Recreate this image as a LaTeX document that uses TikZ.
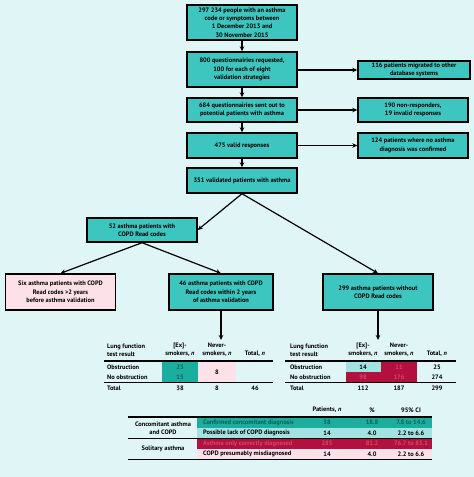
\documentclass[tikz,border=0pt]{standalone}
\usepackage{fontspec}
\setmainfont{PT Sans}
\usetikzlibrary{arrows.meta}
\definecolor{bgc}{HTML}{E0F5F6}
\definecolor{boxteal}{HTML}{3CC6BF}
\definecolor{tealdk}{HTML}{1BAE9F}
\definecolor{teallt}{HTML}{A2E2E0}
\definecolor{crim}{HTML}{B3103F}
\definecolor{pinkc}{HTML}{FCE1E8}
\definecolor{crimtxt}{HTML}{D24868}
\definecolor{tealtxt}{HTML}{075E57}
\newcommand\myfs{\bfseries\fontsize{6.4}{8.3}\selectfont}
\begin{document}
\begin{tikzpicture}[x=1pt,y=-1pt,
  box/.style={draw=black,line width=1.4pt,fill=boxteal,align=center,inner sep=0pt,font=\myfs,minimum width=110pt},
  pbox/.style={box,fill=pinkc},
  arr/.style={-{Stealth[length=5pt,width=4.5pt]},line width=1.2pt},
  txt/.style={font=\myfs,inner sep=0pt,align=center},
  ltxt/.style={font=\myfs,inner sep=0pt,anchor=west,align=left},
  cell/.style={font=\myfs,inner sep=0pt,draw=none},
  rulethick/.style={line width=1.4pt},
  rulethin/.style={line width=1pt}]
\useasboundingbox (0,0) rectangle (474,477);
\fill[bgc] (0,0) rectangle (474,477);

% main chain
\node[box,minimum height=35pt] (b1) at (242,22.5) {297 234 people with an asthma\\code or symptoms between\\1 December 2013 and\\30 November 2015};
\node[box,minimum height=35pt] (b2) at (242,69.5) {800 questionnairies requested,\\100 for each of eight\\validation strategies};
\node[box,minimum height=24pt] (b3) at (242,110) {684 questionnairies sent out to\\potential patients with asthma};
\node[box,minimum height=25pt] (b4) at (242,145.5) {475 valid responses};
\node[box,minimum height=25pt] (b5) at (242,180.5) {351 validated patients with asthma};

\node[box,minimum width=112pt,minimum height=18pt] (s1) at (414,70) {116 patients migrated to other\\database systems};
\node[box,minimum height=24pt] (s2) at (413,110) {190 non-responders,\\19 invalid responses};
\node[box,minimum height=25pt] (s3) at (413,145.5) {124 patients where no asthma\\diagnosis was confirmed};

\node[box,minimum height=24pt] (b52) at (142,230) {52 asthma patients with\\COPD Read codes};
\node[pbox,minimum height=36pt] (b6) at (60.5,292) {Six asthma patients with COPD\\Read codes >2 years\\before asthma validation};
\node[box,minimum width=104pt,minimum height=36pt] (b46) at (221,292) {46 asthma patients with COPD\\Read codes within 2 years\\of asthma validation};
\node[box,minimum height=36pt] (b299) at (378,292) {299 asthma patients without\\COPD Read codes};

\draw[arr] (b1) -- (b2);
\draw[arr] (b2) -- (b3);
\draw[arr] (b3) -- (b4);
\draw[arr] (b4) -- (b5);
\draw[arr] (b2.east |- s1.west) -- (s1.west);
\draw[arr] (b3.east) -- (s2.west);
\draw[arr] (b4.east) -- (s3.west);
\draw[arr] (b5.south) -- (b52.east);
\draw[arr] (b5.south) -- (b299.north);
\draw[arr] (b52.south) -- (b6.north);
\draw[arr] (b52.south) -- (b46.north);
\coordinate (lt) at (221,340);
\coordinate (rt) at (378,340);
\draw[arr] (b46.south) -- (lt);
\draw[arr] (b299.south) -- (rt);

% left table
\node[ltxt] (lh1) at (107,350) {Lung function\\test result};
\node[txt] (lh2) at (180,350) {[Ex]-\\smokers, \textit{n}};
\node[txt] (lh3) at (217,350) {Never-\\smokers, \textit{n}};
\node[txt] (lh4) at (255,354) {Total, \textit{n}};
\draw[rulethick] (104,361) -- (273,361);
\node[cell,fill=tealdk,minimum width=36pt,minimum height=10pt,text=tealtxt] (l23) at (180,367) {23};
\node[cell,fill=tealdk,minimum width=36pt,minimum height=10pt,text=tealtxt] (l15) at (180,377) {15};
\node[cell,fill=pinkc,minimum width=38pt,minimum height=20pt] (l8) at (217,372) {8};
\node[ltxt] (lr1) at (107,367) {Obstruction};
\node[ltxt] (lr2) at (107,377) {No obstruction};
\draw[rulethin] (104,382.5) -- (273,382.5);
\node[ltxt] (lr3) at (107,388.5) {Total};
\node[txt] (lt1) at (180,388.5) {38};
\node[txt] (lt2) at (217,388.5) {8};
\node[txt] (lt3) at (255,388.5) {46};

% right table
\node[ltxt] (rh1) at (290,350) {Lung function\\test result};
\node[txt] (rh2) at (363,350) {[Ex]-\\smokers, \textit{n}};
\node[txt] (rh3) at (399,350) {Never-\\smokers, \textit{n}};
\node[txt] (rh4) at (437,354) {Total, \textit{n}};
\draw[rulethick] (285,361) -- (456,361);
\node[cell,fill=teallt,minimum width=35pt,minimum height=10pt] (r14) at (363,367) {14};
\node[cell,fill=crim,minimum width=36pt,minimum height=10pt,text=crimtxt] (r11) at (399,367) {11};
\node[cell,fill=crim,minimum width=35pt,minimum height=10pt,text=crimtxt] (r98) at (363,377) {98};
\node[cell,fill=crim,minimum width=36pt,minimum height=10pt,text=crimtxt] (r176) at (399,377) {176};
\node[txt] (r25) at (437,367) {25};
\node[txt] (r274) at (437,377) {274};
\node[ltxt] (rr1) at (290,367) {Obstruction};
\node[ltxt] (rr2) at (290,377) {No obstruction};
\draw[rulethin] (285,382.5) -- (456,382.5);
\node[ltxt] (rr3) at (290,388.5) {Total};
\node[txt] (rt1) at (363,388.5) {112};
\node[txt] (rt2) at (399,388.5) {187};
\node[txt] (rt3) at (437,388.5) {299};

% bottom table
\node[txt] (bh1) at (327,410) {Patients, \textit{n}};
\node[txt] (bh2) at (372,410) {\%};
\node[txt] (bh3) at (411,410) {95\% CI};
\node[cell,fill=tealdk,minimum width=235pt,minimum height=11pt] (row1) at (314.5,422.5) {};
\node[cell,fill=teallt,minimum width=235pt,minimum height=10.5pt] (row2) at (314.5,433.25) {};
\node[cell,fill=crim,minimum width=235pt,minimum height=10.5pt] (row3) at (314.5,443.75) {};
\node[cell,fill=pinkc,minimum width=235pt,minimum height=10.5pt] (row4) at (314.5,454.25) {};
\draw[rulethick] (128,417) -- (432,417);
\draw[rulethick] (128,438.5) -- (432,438.5);
\draw[rulethick] (128,459.5) -- (432,459.5);
\node[txt] (g1) at (163,428) {Concomitant asthma\\and COPD};
\node[txt] (g2) at (163,449) {Solitary asthma};
\node[ltxt,text=tealtxt] (c1) at (203,422.5) {Confirmed concomitant diagnosis};
\node[ltxt] (c2) at (203,433.25) {Possible lack of COPD diagnosis};
\node[ltxt,text=crimtxt] (c3) at (203,443.75) {Asthma only correctly diagnosed};
\node[ltxt] (c4) at (203,454.25) {COPD presumably misdiagnosed};
\node[txt,text=tealtxt] (p1) at (327,422.5) {38};
\node[txt] (p2) at (327,433.25) {14};
\node[txt,text=crimtxt] (p3) at (327,443.75) {285};
\node[txt] (p4) at (327,454.25) {14};
\node[txt,text=tealtxt] (q1) at (372,422.5) {18.8};
\node[txt] (q2) at (372,433.25) {4.0};
\node[txt,text=crimtxt] (q3) at (372,443.75) {81.2};
\node[txt] (q4) at (372,454.25) {4.0};
\node[txt,text=tealtxt] (ci1) at (411,422.5) {7.8 to 14.6};
\node[txt] (ci2) at (411,433.25) {2.2 to 6.6};
\node[txt,text=crimtxt] (ci3) at (411,443.75) {76.7 to 85.1};
\node[txt] (ci4) at (411,454.25) {2.2 to 6.6};
\end{tikzpicture}
\end{document}
